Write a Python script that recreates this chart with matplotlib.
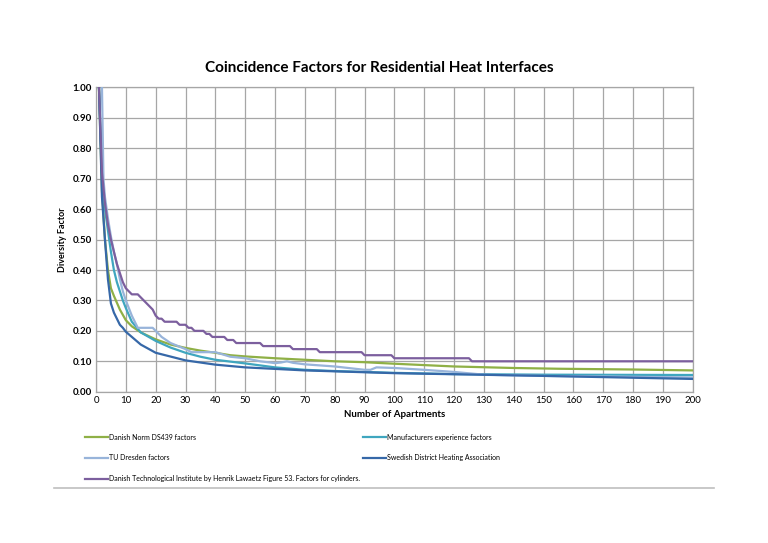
import matplotlib
matplotlib.use("Agg")
from matplotlib import pyplot as plt
from matplotlib.ticker import MultipleLocator, FormatStrFormatter
from matplotlib.lines import Line2D

# Danish Norm DS439 factors
ds439_x = [1, 2, 3, 4, 5, 6, 8, 10, 12, 15, 20, 25, 30, 35, 40, 45, 50, 60, 70, 80,
           90, 100, 120, 140, 155, 180, 200]
ds439_y = [1.00, 0.66, 0.50, 0.40, 0.34, 0.315, 0.27, 0.235, 0.215, 0.195, 0.172, 0.155,
           0.144, 0.135, 0.128, 0.12, 0.116, 0.11, 0.105, 0.10, 0.097, 0.092, 0.083,
           0.078, 0.0755, 0.073, 0.070]

# Manufacturers experience factors
manuf_x = [1, 2, 3, 4, 5, 6, 7, 8, 9, 10, 12, 15, 20, 25, 30, 35, 40, 50, 60, 70, 80,
           100, 120, 150, 200]
manuf_y = [1.00, 0.72, 0.60, 0.53, 0.46, 0.40, 0.36, 0.33, 0.30, 0.275, 0.23, 0.195,
           0.167, 0.145, 0.128, 0.115, 0.105, 0.093, 0.08, 0.072, 0.068, 0.062, 0.058,
           0.056, 0.055]

# TU Dresden factors
tud_x = [2, 2.5, 3, 4, 5, 6, 7, 8, 9, 10, 12, 14, 19, 20, 22, 25, 30, 32, 40, 45, 50,
         55, 60, 62, 64, 66, 70, 80, 90, 92, 94, 100, 110, 120, 130, 150, 200]
tud_y = [1.00, 0.70, 0.64, 0.57, 0.51, 0.46, 0.42, 0.37, 0.33, 0.30, 0.25, 0.21, 0.21,
         0.20, 0.18, 0.16, 0.14, 0.13, 0.13, 0.115, 0.11, 0.10, 0.094, 0.096, 0.10,
         0.095, 0.09, 0.083, 0.072, 0.072, 0.08, 0.078, 0.072, 0.065, 0.056, 0.052,
         0.047]

# Swedish District Heating Association
swe_x = [1, 2, 3, 4, 5, 6, 7, 8, 9, 10, 15, 20, 30, 40, 50, 70, 100, 150, 200]
swe_y = [1.00, 0.64, 0.50, 0.37, 0.29, 0.26, 0.24, 0.22, 0.21, 0.197, 0.155, 0.128,
         0.103, 0.089, 0.08, 0.07, 0.061, 0.052, 0.042]

# Danish Technological Institute (stepped, two decimals)
dti_x = [1, 2, 3, 4, 5, 6, 7, 8, 9, 10, 11, 12, 14, 15, 16, 17, 18, 19, 20, 21, 22, 23,
         27, 28, 30, 31, 32, 33, 36, 37, 38, 39, 43, 44, 46, 47, 55, 56, 65, 66, 74, 75,
         89, 90, 99, 100, 125, 126, 200]
dti_y = [1.00, 0.72, 0.62, 0.55, 0.50, 0.46, 0.42, 0.39, 0.36, 0.34, 0.33, 0.32, 0.32,
         0.31, 0.30, 0.29, 0.28, 0.27, 0.25, 0.24, 0.24, 0.23, 0.23, 0.22, 0.22, 0.21,
         0.21, 0.20, 0.20, 0.19, 0.19, 0.18, 0.18, 0.17, 0.17, 0.16, 0.16, 0.15, 0.15,
         0.14, 0.14, 0.13, 0.13, 0.12, 0.12, 0.11, 0.11, 0.10, 0.10]

series = [
    ("Danish Norm DS439 factors", ds439_x, ds439_y, "#8FB046"),
    ("Manufacturers experience factors", manuf_x, manuf_y, "#3FA6BF"),
    ("TU Dresden factors", tud_x, tud_y, "#98B4DA"),
    ("Swedish District Heating Association", swe_x, swe_y, "#3668A8"),
    ("Danish Technological Institute by Henrik Lawaetz Figure 53. Factors for cylinders.",
     dti_x, dti_y, "#7C5F9E"),
]

plt.rcParams['font.family'] = ['Lato', 'DejaVu Sans']

fig = plt.figure(figsize=(7.68, 5.43), dpi=100, facecolor="white")
ax = fig.add_axes([0.125, 0.2786, 0.777, 0.5604])

# draw order: later ones on top
draw_order = [0, 4, 3, 1, 2]
for i in draw_order:
    name, xs, ys, col = series[i]
    ax.plot(xs, ys, color=col, lw=1.6, solid_joinstyle="round", zorder=3 + i * 0.1)

ax.set_xlim(0, 200)
ax.set_ylim(0, 1.0)
ax.xaxis.set_major_locator(MultipleLocator(10))
ax.yaxis.set_major_locator(MultipleLocator(0.1))
ax.yaxis.set_major_formatter(FormatStrFormatter("%.2f"))
ax.grid(True, color="#A6A6A6", lw=0.9)
ax.set_axisbelow(True)
for s in ax.spines.values():
    s.set_color("#A6A6A6")
    s.set_linewidth(0.9)
ax.tick_params(axis="both", length=0, labelsize=7, pad=3, colors="black")
for lab in ax.get_yticklabels():
    lab.set_fontweight("bold")

ax.set_xlabel("Number of Apartments", fontsize=7, fontweight="bold", labelpad=4)
ax.set_ylabel("Diversity Factor", fontsize=6.5, fontweight="bold", labelpad=4)
fig.text(0.494, 0.874, "Coincidence Factors for Residential Heat Interfaces",
         ha="center", va="center", fontsize=11, fontweight="bold")

# legend in row order: col 1 = DS439, TU, DTI ; col 2 = Manuf, Swedish
handles = [Line2D([], [], color=series[k][3], lw=1.6) for k in (0, 2, 4, 1, 3)]
labels = [series[k][0] for k in (0, 2, 4, 1, 3)]
fig.legend(handles, labels, ncol=2, loc="upper left", bbox_to_anchor=(0.102, 0.213),
           frameon=False, fontsize=5.0, handlelength=3.3, handletextpad=0.2,
           labelspacing=2.0, columnspacing=0.4)

fig.add_artist(Line2D([0.07, 0.93], [0.101, 0.101], color="#BFBFBF", lw=1.2,
                      transform=fig.transFigure))

fig.savefig("out.png", dpi=100, facecolor="white")
